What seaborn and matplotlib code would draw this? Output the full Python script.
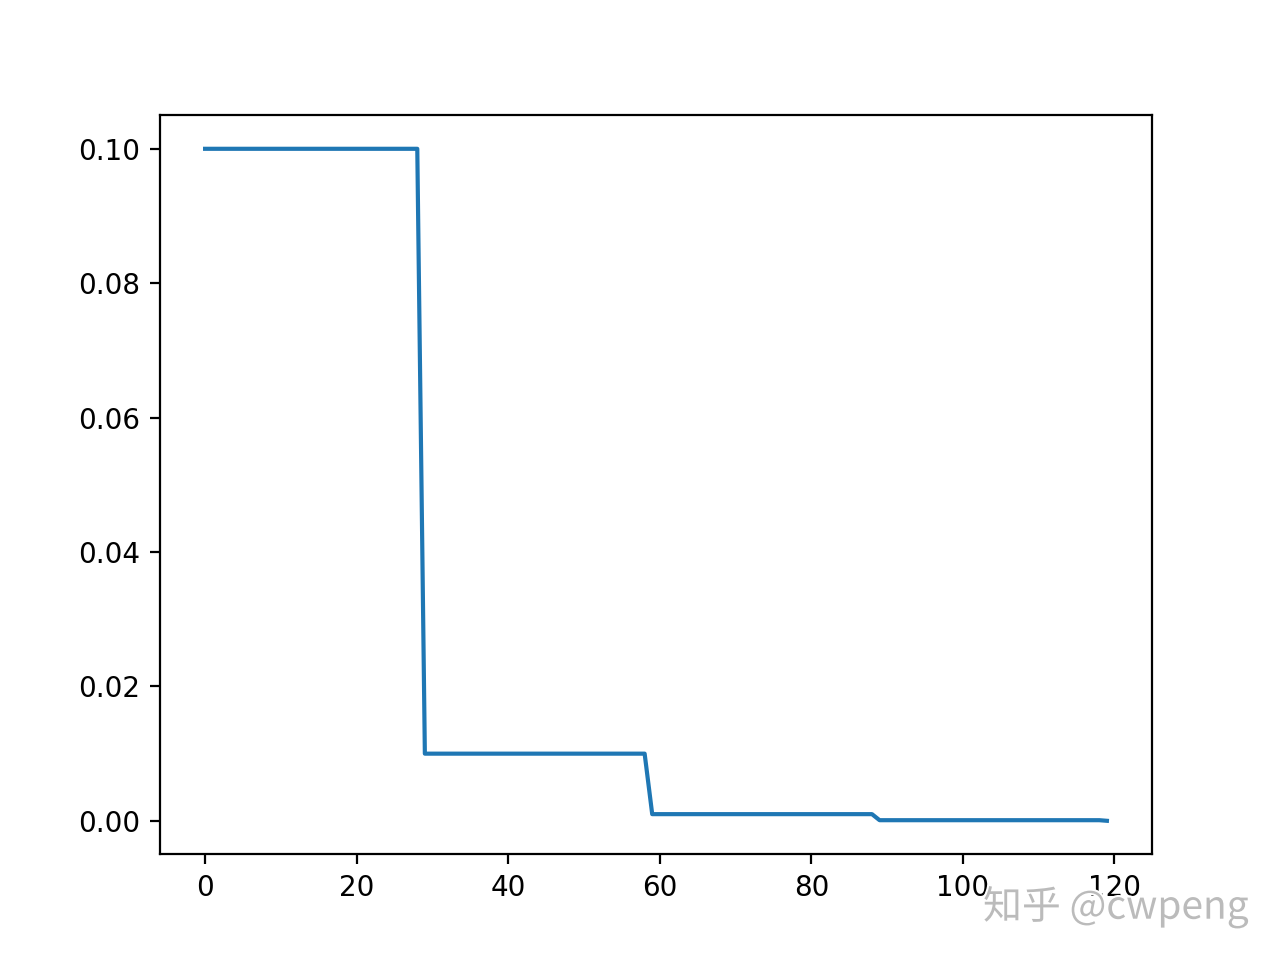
import matplotlib
matplotlib.use("Agg")
import matplotlib.pyplot as plt
import matplotlib.patheffects as pe
import seaborn as sns
import pandas as pd

# learning rate per epoch (step decay every 30 epochs)
epochs = list(range(120))
lr_values = [0.1] * 29 + [0.01] * 30 + [0.001] * 30 + [0.0001] * 30 + [0.00001]

df = pd.DataFrame({"epoch": epochs, "lr": lr_values})

fig, ax = plt.subplots(figsize=(6.4, 4.8), dpi=200)
sns.lineplot(data=df, x="epoch", y="lr", ax=ax, color="#1f77b4", linewidth=1.5)
ax.set_xlabel("")
ax.set_ylabel("")
ax.set_xticks([0, 20, 40, 60, 80, 100, 120])

# watermark
fig.text(0.768, 0.043, "知乎 @cwpeng", fontsize=14, color="#bbbbbb",
         family=["Noto Sans CJK SC", "DejaVu Sans"],
         path_effects=[pe.withStroke(linewidth=1.5, foreground="white")])

fig.savefig("out.png", dpi=200)
